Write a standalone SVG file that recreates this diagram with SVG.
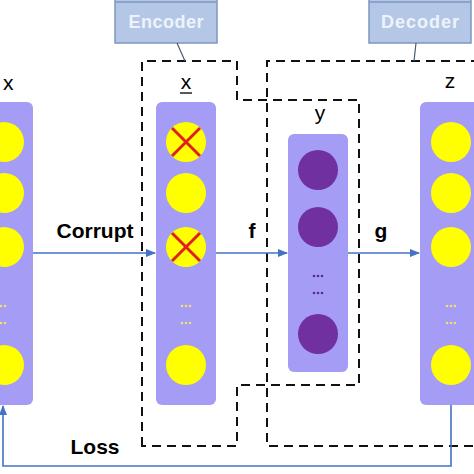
<svg xmlns="http://www.w3.org/2000/svg" width="474" height="474" viewBox="0 0 474 474">
<style>
.col{fill:#a59cf5}
.yc{fill:#ffff00}
.pc{fill:#7030a0}
.dash{fill:none;stroke:#111;stroke-width:2;stroke-dasharray:9,6}
.arr{fill:none;stroke:#4472c4;stroke-width:1.6}
.lbl{font-family:"Liberation Sans",Arial,sans-serif;font-size:21px;fill:#000}
.b{font-weight:bold}
.tag{fill:#b4c7e7;stroke:#7f96c0;stroke-width:1.5}
.tagt{font-family:"Liberation Sans",Arial,sans-serif;font-size:18px;font-weight:bold;fill:#eef3fb}
.x{stroke:#e02020;stroke-width:3}
.dy{fill:#f0e070}
.dp{fill:#5a2a9a}
</style>
<defs>
<marker id="ah" markerWidth="10" markerHeight="8" refX="9" refY="4" orient="auto" markerUnits="userSpaceOnUse">
<path d="M0,0 L10,4 L0,8 z" fill="#4472c4"/>
</marker>
</defs>

<g id="dashed-boxes">
<path class="dash" d="M142,446 L142,61 L237,61 L237,100 L359,100 L359,385 L237,385 L237,446 Z"/>
<path class="dash" d="M480,61 L267,61 L267,446 L480,446"/>
</g>

<g id="encoder-tag">
<rect class="tag" x="115" y="-10" width="102" height="53"/>
<line x1="115" y1="2" x2="217" y2="2" stroke="#7f96c0" stroke-width="1.5"/>
<line x1="177" y1="43" x2="185" y2="61" stroke="#4a5a7a" stroke-width="1.2"/>
<text class="tagt" x="166" y="28" text-anchor="middle" textLength="75">Encoder</text>
</g>

<g id="decoder-tag">
<rect class="tag" x="369" y="-10" width="102" height="53"/>
<line x1="369" y1="2" x2="471" y2="2" stroke="#7f96c0" stroke-width="1.5"/>
<line x1="416" y1="43" x2="414" y2="61" stroke="#4a5a7a" stroke-width="1.2"/>
<text class="tagt" x="420" y="28" text-anchor="middle" textLength="78">Decoder</text>
</g>

<g id="input-x">
<rect class="col" x="-30" y="102" width="63" height="303" rx="6"/>
<circle class="yc" cx="4" cy="142" r="20"/>
<circle class="yc" cx="4" cy="193" r="20"/>
<circle class="yc" cx="4" cy="247" r="20"/>
<circle class="yc" cx="4" cy="365" r="20"/>
<g class="dy"><circle cx="1" cy="306" r="1.3"/><circle cx="5" cy="306" r="1.3"/><circle cx="1" cy="323" r="1.3"/><circle cx="5" cy="323" r="1.3"/></g>
<text class="lbl" x="3" y="90" font-size="20">x</text>
</g>

<g id="corrupted-x">
<rect class="col" x="156" y="102" width="60" height="303" rx="6"/>
<circle class="yc" cx="186" cy="142" r="20"/>
<circle class="yc" cx="186" cy="193" r="20"/>
<circle class="yc" cx="186" cy="247" r="20"/>
<circle class="yc" cx="186" cy="365" r="20"/>
<line class="x" x1="172" y1="128" x2="200" y2="156"/><line class="x" x1="200" y1="128" x2="172" y2="156"/>
<line class="x" x1="172" y1="233" x2="200" y2="261"/><line class="x" x1="200" y1="233" x2="172" y2="261"/>
<g class="dy"><circle cx="182" cy="306" r="1.3"/><circle cx="186" cy="306" r="1.3"/><circle cx="190" cy="306" r="1.3"/><circle cx="182" cy="323" r="1.3"/><circle cx="186" cy="323" r="1.3"/><circle cx="190" cy="323" r="1.3"/></g>
<text class="lbl" x="186" y="89" font-size="20" text-anchor="middle">x</text>
<line x1="180" y1="93" x2="192" y2="93" stroke="#000" stroke-width="1.3"/>
</g>

<g id="hidden-y">
<rect class="col" x="288" y="134" width="60" height="238" rx="6"/>
<circle class="pc" cx="318" cy="170" r="20"/>
<circle class="pc" cx="318" cy="227" r="20"/>
<circle class="pc" cx="318" cy="334" r="20"/>
<g class="dp"><circle cx="314" cy="276" r="1.3"/><circle cx="318" cy="276" r="1.3"/><circle cx="322" cy="276" r="1.3"/><circle cx="314" cy="293" r="1.3"/><circle cx="318" cy="293" r="1.3"/><circle cx="322" cy="293" r="1.3"/></g>
<text class="lbl" x="320" y="120" font-size="20" text-anchor="middle">y</text>
</g>

<g id="output-z">
<rect class="col" x="420" y="102" width="80" height="303" rx="6"/>
<circle class="yc" cx="451" cy="142" r="20"/>
<circle class="yc" cx="451" cy="193" r="20"/>
<circle class="yc" cx="451" cy="247" r="20"/>
<circle class="yc" cx="451" cy="365" r="20"/>
<g class="dy"><circle cx="447" cy="306" r="1.3"/><circle cx="451" cy="306" r="1.3"/><circle cx="455" cy="306" r="1.3"/><circle cx="447" cy="323" r="1.3"/><circle cx="451" cy="323" r="1.3"/><circle cx="455" cy="323" r="1.3"/></g>
<text class="lbl" x="450" y="88" font-size="20" text-anchor="middle">z</text>
</g>

<g id="connectors">
<line class="arr" x1="33" y1="253" x2="155" y2="253" marker-end="url(#ah)"/>
<line class="arr" x1="216" y1="253" x2="287" y2="253" marker-end="url(#ah)"/>
<line class="arr" x1="348" y1="253" x2="419" y2="253" marker-end="url(#ah)"/>
<path class="arr" d="M451,405 L451,466 L3,466 L3,406" marker-end="url(#ah)"/>
<text class="lbl b" x="95" y="238" text-anchor="middle">Corrupt</text>
<text class="lbl b" x="252" y="238" text-anchor="middle">f</text>
<text class="lbl b" x="381" y="238" text-anchor="middle">g</text>
<text class="lbl b" x="95" y="454" text-anchor="middle" font-size="20">Loss</text>
</g>
</svg>
